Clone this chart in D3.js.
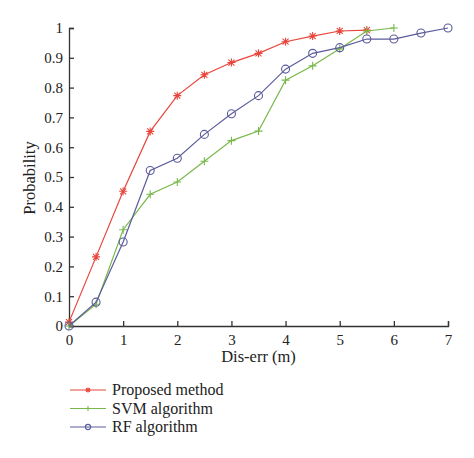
<!DOCTYPE html>
<html lang="en">
<head>
<meta charset="UTF-8">
<title>Probability vs Dis-err</title>
<script src="https://cdn.jsdelivr.net/npm/d3@7"></script>
<style>
  body { margin: 0; background: #fff; }
  text { font-family: "Liberation Serif", "DejaVu Serif", serif; fill: #222; }
</style>
</head>
<body>
<script>
var width = 474, height = 458;

var proposedX = [0, 0.5, 1, 1.5, 2, 2.5, 3, 3.5, 4, 4.5, 5, 5.5];
var proposedY = [0.013, 0.232, 0.452, 0.653, 0.773, 0.843, 0.884, 0.915, 0.954, 0.973, 0.99, 0.993];
var svmX = [0, 0.5, 1, 1.5, 2, 2.5, 3, 3.5, 4, 4.5, 5, 5.5, 6];
var svmY = [0, 0.073, 0.323, 0.442, 0.483, 0.553, 0.622, 0.654, 0.825, 0.873, 0.93, 0.99, 1.0];
var rfX = [0, 0.5, 1, 1.5, 2, 2.5, 3, 3.5, 4, 4.5, 5, 5.5, 6, 6.5, 7];
var rfY = [0, 0.08, 0.282, 0.522, 0.563, 0.643, 0.712, 0.773, 0.862, 0.915, 0.934, 0.963, 0.963, 0.983, 1.0];
var xTicks = [0, 1, 2, 3, 4, 5, 6, 7];
var yTicks = [0, 0.1, 0.2, 0.3, 0.4, 0.5, 0.6, 0.7, 0.8, 0.9, 1];

var series = [
  {name: 'Proposed method', xs: proposedX, ys: proposedY, color: '#e8463c', marker: 'star'},
  {name: 'SVM algorithm', xs: svmX, ys: svmY, color: '#78b84a', marker: 'plus'},
  {name: 'RF algorithm', xs: rfX, ys: rfY, color: '#5b5b9c', marker: 'circle'}
];

var svg = d3.select('body').append('svg')
  .attr('width', width)
  .attr('height', height);

var x = d3.scaleLinear().domain([0, 7]).range([69, 448]);
var y = d3.scaleLinear().domain([0, 1]).range([326, 28]);

// axes, ticks pointing inward
var xAxis = d3.axisBottom(x).tickValues(xTicks).tickSizeInner(-5).tickSizeOuter(-5).tickPadding(8)
  .tickFormat(d3.format('d'));
var yAxis = d3.axisLeft(y).tickValues(yTicks).tickSizeInner(-5).tickSizeOuter(-5).tickPadding(6)
  .tickFormat(function (d) { return d === 0 || d === 1 ? d3.format('d')(d) : d3.format('.1f')(d); });

var gx = svg.append('g').attr('transform', 'translate(0,' + y(0) + ')').call(xAxis);
var gy = svg.append('g').attr('transform', 'translate(' + x(0) + ',0)').call(yAxis);
[gx, gy].forEach(function (g) {
  g.selectAll('path, line').attr('stroke', '#333').attr('stroke-width', 1.3);
  g.selectAll('text').style('font-size', '15px').attr('fill', '#222');
});

svg.append('text')
  .attr('x', (x(0) + x(7)) / 2)
  .attr('y', 362)
  .attr('text-anchor', 'middle')
  .style('font-size', '16.5px')
  .text('Dis-err (m)');

svg.append('text')
  .attr('transform', 'translate(35,' + (y(0.5) + 1) + ') rotate(-90)')
  .attr('text-anchor', 'middle')
  .style('font-size', '16.5px')
  .text('Probability');

function drawMarker(g, type, cx, cy, color, r) {
  var h = r * 0.75;
  if (type === 'circle') {
    g.append('circle').attr('cx', cx).attr('cy', cy).attr('r', r)
      .attr('fill', 'none').attr('stroke', color).attr('stroke-width', 1.1);
  } else if (type === 'plus') {
    g.append('path').attr('d', 'M' + (cx - r) + ',' + cy + 'h' + 2 * r + 'M' + cx + ',' + (cy - r) + 'v' + 2 * r)
      .attr('stroke', color).attr('stroke-width', 1.1);
  } else {
    g.append('path').attr('d', 'M' + (cx - r) + ',' + cy + 'h' + 2 * r + 'M' + cx + ',' + (cy - r) + 'v' + 2 * r +
        'M' + (cx - h) + ',' + (cy - h) + 'l' + 2 * h + ',' + 2 * h +
        'M' + (cx - h) + ',' + (cy + h) + 'l' + 2 * h + ',' + (-2 * h))
      .attr('stroke', color).attr('stroke-width', 1.1);
  }
}

var line = d3.line()
  .x(function (d) { return x(d[0]); })
  .y(function (d) { return y(d[1]); });

series.forEach(function (s) {
  var pts = d3.zip(s.xs, s.ys);
  var g = svg.append('g');
  g.append('path').datum(pts)
    .attr('d', line)
    .attr('fill', 'none')
    .attr('stroke', s.color)
    .attr('stroke-width', 1.2);
  pts.forEach(function (p) {
    drawMarker(g, s.marker, x(p[0]), y(p[1]), s.color, 4);
  });
});

// legend
var legend = svg.append('g');
series.forEach(function (s, i) {
  var ly = 390 + i * 18.5;
  legend.append('line').attr('x1', 70).attr('x2', 106).attr('y1', ly).attr('y2', ly)
    .attr('stroke', s.color).attr('stroke-width', 1.2);
  drawMarker(legend, s.marker, 88, ly, s.color, 2.6);
  legend.append('text').attr('x', 112).attr('y', ly + 5)
    .style('font-size', '16px')
    .text(s.name);
});
</script>
</body>
</html>
